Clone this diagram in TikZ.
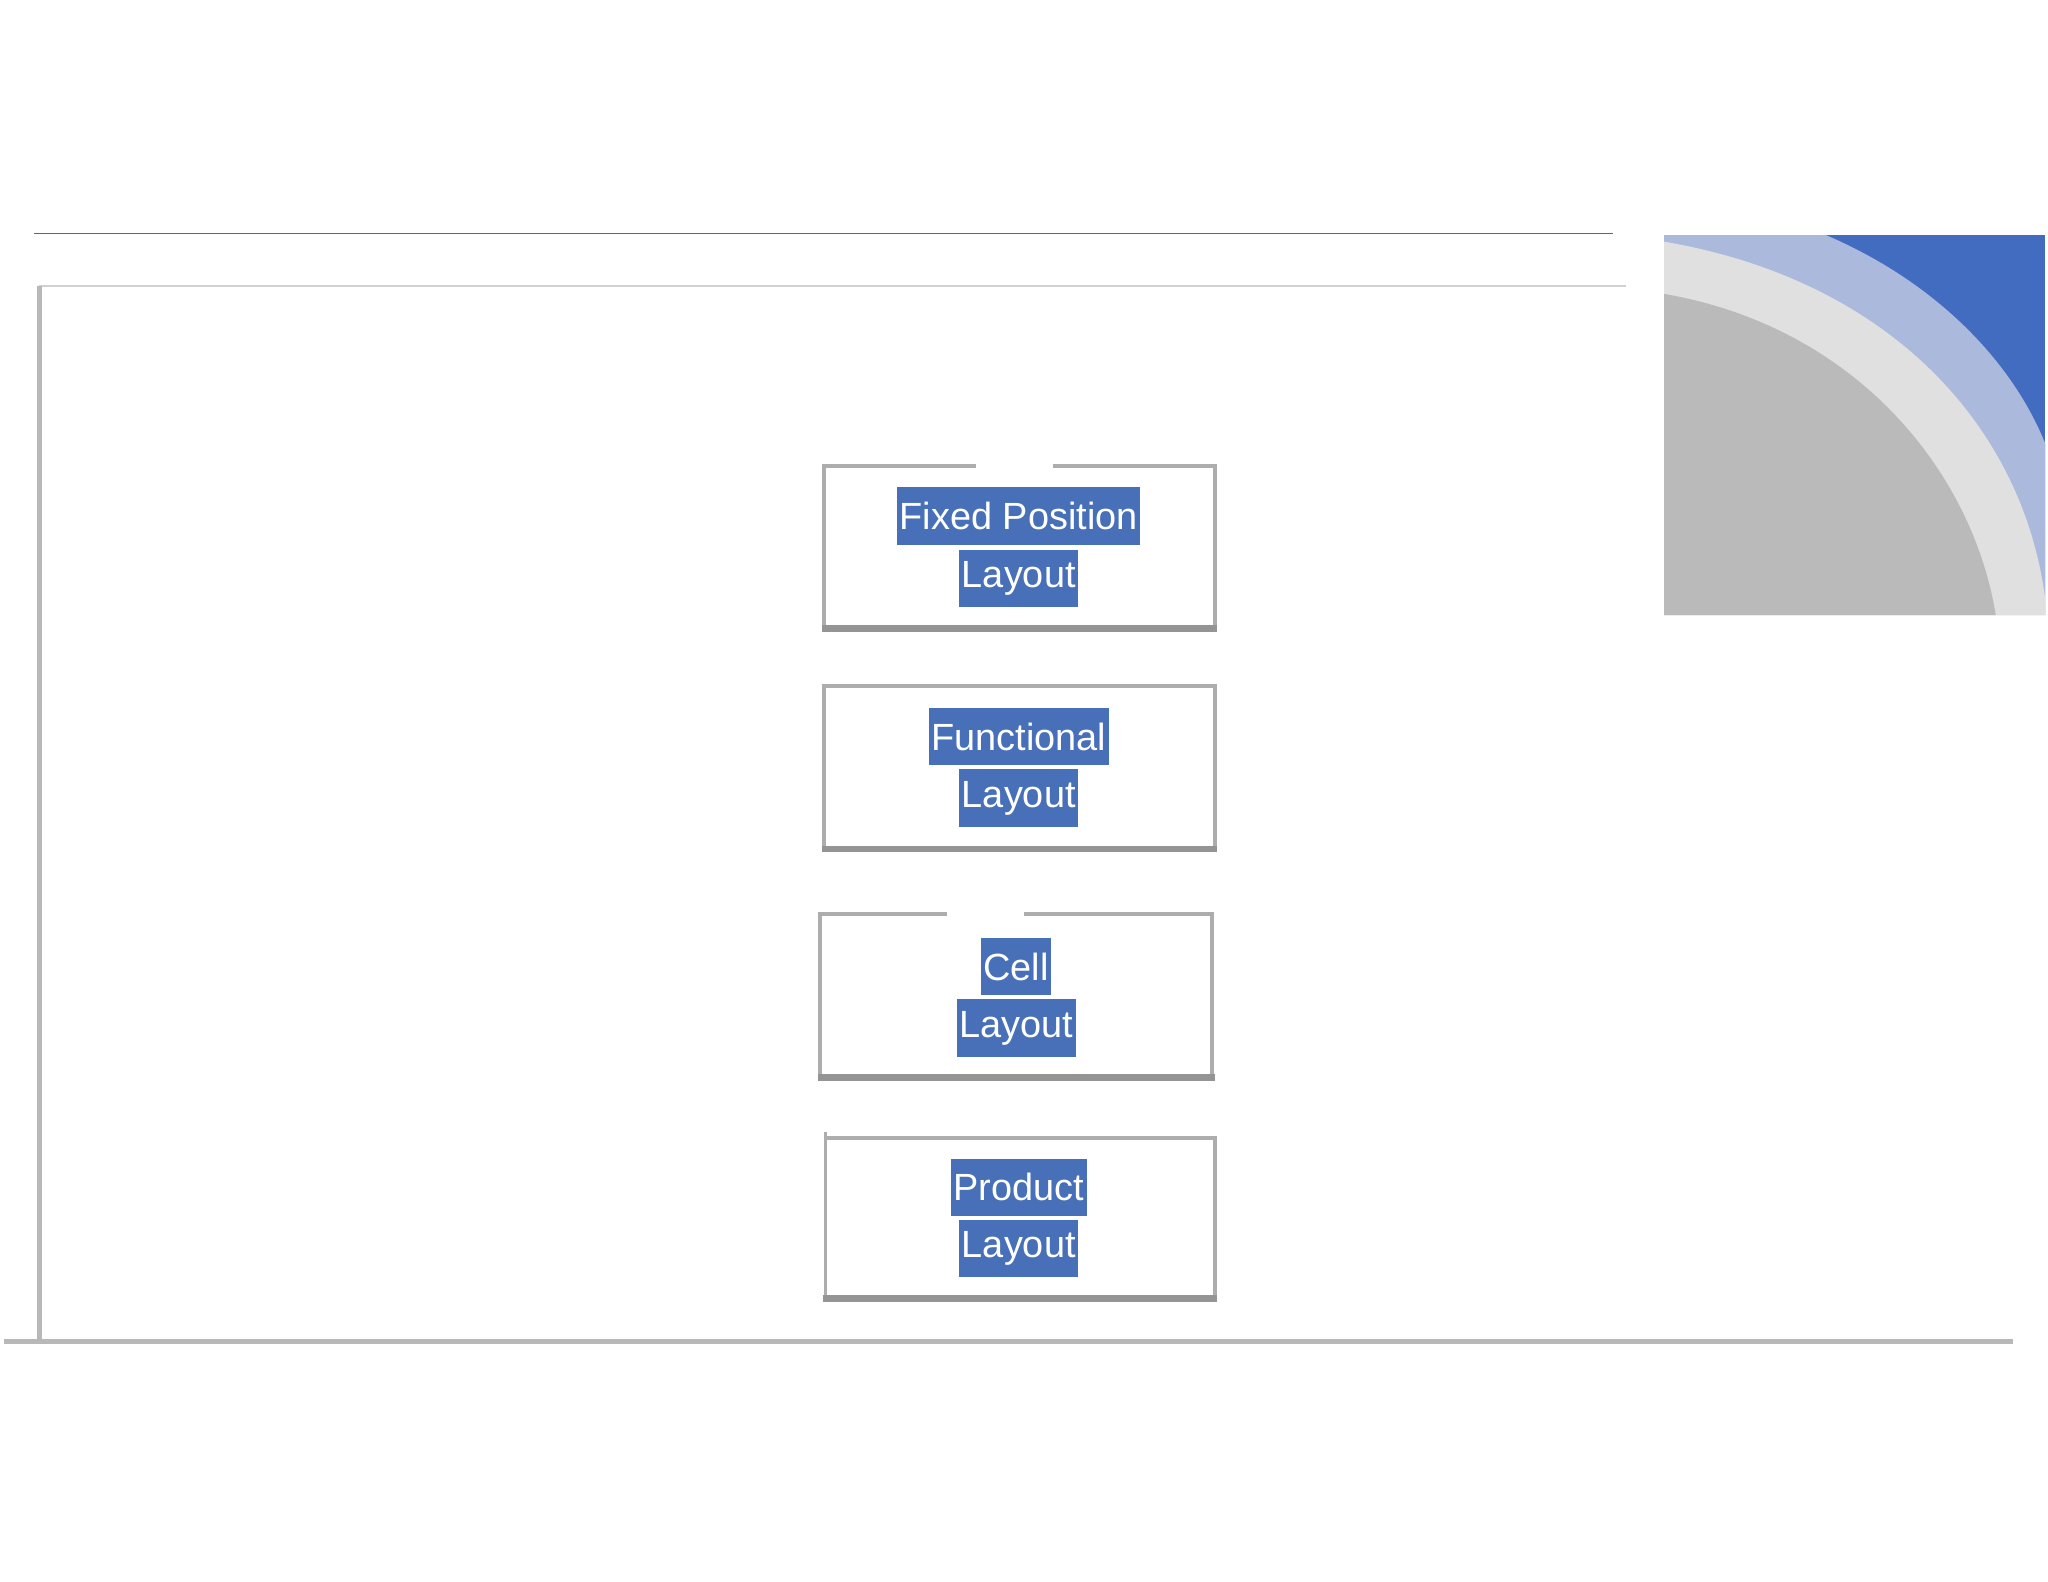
\documentclass[tikz,border=0pt]{standalone}
\usepackage{fontspec}
\setmainfont{Liberation Sans}
\definecolor{hlblue}{RGB}{72,112,184}
\definecolor{cdark}{RGB}{66,108,192}
\definecolor{clight}{RGB}{170,185,220}
\begin{document}
\begin{tikzpicture}[x=1pt,y=-1pt,
  frame/.style={draw=black!32,line width=3pt},
  base/.style={draw=black!42,line width=5pt},
  hl/.style={fill=hlblue,text=white,font=\fontsize{29}{30}\selectfont,inner sep=2pt,minimum height=44pt}]
\useasboundingbox (0,0) rectangle (1568,1211);
% lines
\draw[black!60,line width=1pt] (26,179) -- (1235,179);
\draw[black!18,line width=1.5pt] (30,219) -- (1245,219);
\draw[black!28,line width=4pt] (30,219) -- (30,1027);
\draw[black!28,line width=4pt] (3,1027) -- (1541,1027);
% corner
\fill[cdark] (1274,180) rectangle (1566,471);
\fill[clight] (1274,180) -- (1398,180) .. controls (1480,215) and (1540,275) .. (1566,340) -- (1566,471) -- (1274,471) -- cycle;
\fill[black!12] (1274,185) .. controls (1450,215) and (1550,330) .. (1566,460) -- (1566,471) -- (1274,471) -- cycle;
\fill[black!27] (1274,225) .. controls (1420,250) and (1510,360) .. (1528,471) -- (1274,471) -- cycle;
% box 1
\draw[frame] (747,357) -| (631,481);
\draw[frame] (806,357) -| (930,481);
\draw[base] (629,481) -- (932,481);
\node[hl] (t1a) at (780,395) {Fixed Position};
\node[hl] (t1b) at (780,443) {Layout};
% box 2
\draw[frame] (631,650) |- (930,525) -- (930,650);
\draw[base] (629,650) -- (932,650);
\node[hl] (t2a) at (780,564) {Functional};
\node[hl] (t2b) at (780,611) {Layout};
% box 3
\draw[frame] (725,700) -| (628,825);
\draw[frame] (784,700) -| (928,825);
\draw[base] (626,825) -- (930,825);
\node[hl] (t3a) at (778,740) {Cell};
\node[hl] (t3b) at (778,787) {Layout};
% box 4
\draw[frame] (632,867) -- (632,994);
\draw[frame] (632,871) -| (930,994);
\draw[base] (630,994) -- (932,994);
\node[hl] (t4a) at (780,909) {Product};
\node[hl] (t4b) at (780,956) {Layout};
\end{tikzpicture}
\end{document}
